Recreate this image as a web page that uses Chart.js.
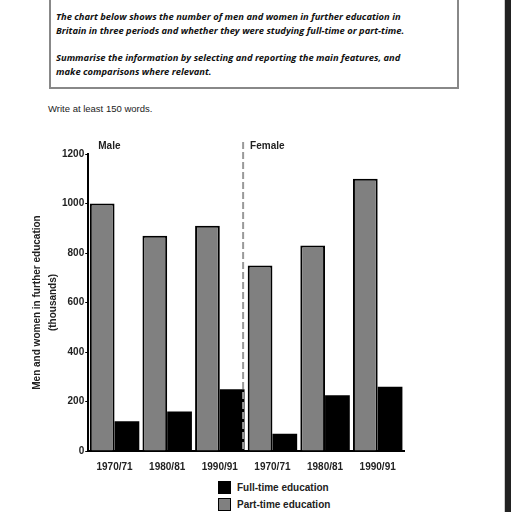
<!DOCTYPE html>
<html>
<head>
<meta charset="utf-8">
<script src="https://cdn.jsdelivr.net/npm/chart.js@4.4.1/dist/chart.umd.min.js"></script>
<style>
  body { margin: 0; background: #fff; width: 511px; height: 512px; overflow: hidden; position: relative; font-family: "Liberation Sans", Arial, sans-serif; }
  #task { position: absolute; left: 49px; top: -3px; width: 401px; height: 88px; border: 2px solid #888; padding: 0 0 0 5px;
          font-family: "Open Sans", sans-serif; font-weight: bold; font-style: italic; font-size: 9.4px; line-height: 13.5px; color: #111; }
  #task p { margin: 11px 0 0 0; }
  #task p + p { margin-top: 14px; }
  #write { position: absolute; left: 48px; top: 103px; font-size: 9.5px; color: #222; }
  #wrap { position: absolute; left: 0; top: 130px; width: 430px; height: 345px; }
  #legend { position: absolute; left: 218px; top: 479px; font-weight: bold; font-size: 10px; color: #222; }
  #legend div { display: flex; align-items: center; height: 17px; }
  #legend span.box { display: inline-block; width: 11px; height: 11px; border: 1.5px solid #000; margin-right: 6px; }
  #edge { position: absolute; left: 504px; top: 0; width: 7px; height: 512px; background: #222; border-left: 1px solid #ccc; }
</style>
</head>
<body>
<div id="task">
  <p>The chart below shows the number of men and women in further education in<br>Britain in three periods and whether they were studying full-time or part-time.</p>
  <p>Summarise the information by selecting and reporting the main features, and<br>make comparisons where relevant.</p>
</div>
<div id="write">Write at least 150 words.</div>
<div id="wrap"><canvas id="chart"></canvas></div>
<div id="legend"></div>
<div id="edge"></div>
<script>
const periods = ["1970/71", "1980/81", "1990/91", "1970/71", "1980/81", "1990/91"];
const groupLabels = ["Male", "Female"];
const partTime = [1000, 870, 910, 750, 830, 1100];
const fullTime = [120, 160, 250, 70, 225, 260];
const yTicks = [0, 200, 400, 600, 800, 1000, 1200];

const seriesNames = ["Part-time education", "Full-time education"];
const seriesColors = ["#808080", "#000000"];

// dashed divider between male and female groups, plus the group names
const dividerPlugin = {
    id: "divider",
    afterDatasetsDraw(chart) {
        const ctx = chart.ctx;
        const x = chart.scales.x;
        const area = chart.chartArea;
        const mid = (x.getPixelForValue(2) + x.getPixelForValue(3)) / 2 - 3;

        ctx.save();
        ctx.strokeStyle = "#999";
        ctx.lineWidth = 2;
        ctx.setLineDash([7, 3]);
        ctx.beginPath();
        ctx.moveTo(mid, area.top - 12);
        ctx.lineTo(mid, area.bottom);
        ctx.stroke();

        ctx.fillStyle = "#222";
        ctx.font = "bold 10px 'Liberation Sans', Arial, sans-serif";
        ctx.textBaseline = "middle";
        ctx.fillText(groupLabels[0], area.left + 10, area.top - 8);
        ctx.fillText(groupLabels[1], mid + 7, area.top - 8);
        ctx.restore();
    }
};

new Chart(document.getElementById("chart"), {
    type: "bar",
    data: {
        labels: periods,
        datasets: [{
            label: seriesNames[0],
            data: partTime,
            backgroundColor: seriesColors[0],
            borderColor: "#000",
            borderWidth: 2
        }, {
            label: seriesNames[1],
            data: fullTime,
            backgroundColor: seriesColors[1],
            borderColor: "#000",
            borderWidth: 0
        }]
    },
    options: {
        responsive: true,
        maintainAspectRatio: false,
        animation: false,
        layout: { padding: { left: 29, right: 26, top: 24, bottom: 0 } },
        plugins: {
            legend: { display: false },
            tooltip: { enabled: false }
        },
        datasets: { bar: { categoryPercentage: 0.94, barPercentage: 1.0 } },
        scales: {
            x: {
                grid: { display: false },
                border: { color: "#000", width: 2 },
                ticks: { color: "#222", font: { family: "Liberation Sans", size: 10, weight: "bold" }, padding: 2 }
            },
            y: {
                min: 0,
                max: 1200,
                afterBuildTicks(axis) { axis.ticks = yTicks.map(v => ({ value: v })); },
                grid: { drawOnChartArea: false, color: "#000", tickLength: 3 },
                border: { color: "#000", width: 2 },
                ticks: { color: "#222", font: { family: "Liberation Sans", size: 10, weight: "bold" }, padding: 1,
                         callback: v => String(v) },
                title: {
                    display: true,
                    text: ["Men and women in further education", "(thousands)"],
                    color: "#222",
                    font: { family: "Liberation Sans", size: 10, weight: "bold", lineHeight: 1.6 },
                    padding: { top: 0, bottom: 0 }
                }
            }
        }
    },
    plugins: [dividerPlugin]
});

// legend, full-time listed first as in the original
const legend = document.getElementById("legend");
[1, 0].forEach(i => {
    const row = document.createElement("div");
    row.innerHTML = '<span class="box" style="background:' + seriesColors[i] + '"></span>' + seriesNames[i];
    legend.appendChild(row);
});
</script>
</body>
</html>
